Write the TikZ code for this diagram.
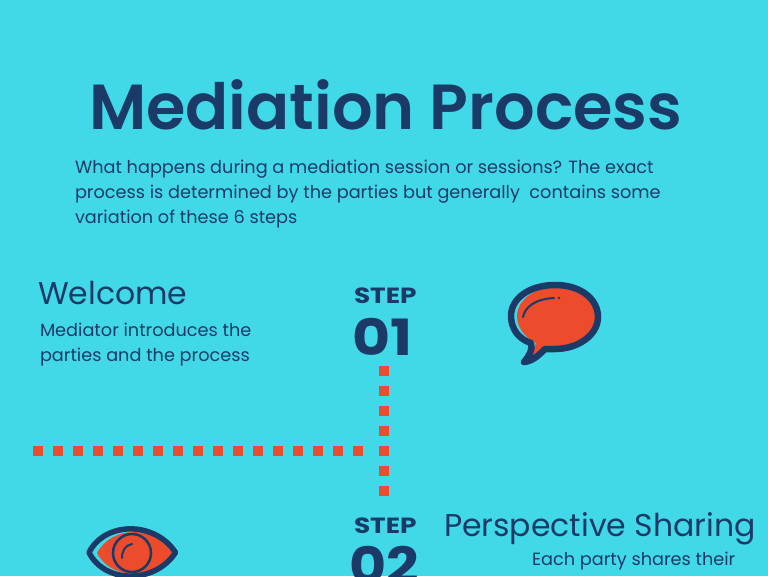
\documentclass[tikz,border=0pt]{standalone}
\usepackage{fontspec}
\setmainfont{Poppins}
\newfontfamily\semi{Poppins SemiBold}
\definecolor{bgc}{HTML}{41D9E8}
\definecolor{navy}{HTML}{1B3A68}
\definecolor{org}{HTML}{EC4B2C}
\newcommand{\bodyfont}{\fontsize{17.7}{17.7}\selectfont}
\newcommand{\headfont}{\fontsize{31.5}{31.5}\selectfont}
\tikzset{
 lbl/.style={inner sep=0pt,outer sep=0pt,text=navy,anchor=base west},
 dot/.style={fill=org,draw=none,minimum size=10pt,inner sep=0pt,outer sep=0pt,shape=rectangle},
 icon/.style={draw=navy,line width=6.5pt,line join=round},
 thin/.style={draw=navy,line width=2pt,line cap=round}
}
\begin{document}
\begin{tikzpicture}[x=1pt,y=-1pt]
\useasboundingbox (0,0) rectangle (768,576);
\clip (0,0) rectangle (768,576);
\fill[bgc] (0,0) rectangle (768,576);
\node[lbl,font=\fontsize{63.7}{63.7}\selectfont\semi] (title) at (89,129) {Mediation Process};
\node[lbl,font=\bodyfont] (i1) at (75,173) {What happens during a mediation session or sessions? The exact};
\node[lbl,font=\bodyfont] (i2) at (75,198) {process is determined by the parties but generally\ \ contains some};
\node[lbl,font=\bodyfont] (i3) at (75,223) {variation of these 6 steps};
\node[lbl,font=\headfont] (w) at (38,304) {Welcome};
\node[lbl,font=\bodyfont] (w1) at (40,336) {Mediator introduces the};
\node[lbl,font=\bodyfont] (w2) at (40,361) {parties and the process};
\node[lbl,font=\fontsize{22}{22}\selectfont\bfseries] (s1) at (354,303) {\scalebox{1.2}[1]{STEP}};
\node[lbl,font=\fontsize{50}{50}\selectfont\bfseries] (n1) at (352,355) {\scalebox{1.17}[1]{01}};
\node[lbl,font=\fontsize{22}{22}\selectfont\bfseries] (s2) at (354,533) {\scalebox{1.2}[1]{STEP}};
\node[lbl,font=\fontsize{50}{50}\selectfont\bfseries] (n2) at (349,583) {\scalebox{1.14}[1]{02}};
\node[lbl,font=\headfont] (p) at (444,536) {Perspective Sharing};
\node[lbl,font=\bodyfont] (p1) at (532,565) {Each party shares their};
\foreach \i in {0,...,16} \node[dot] (h\i) at (38+20*\i,451) {};
\foreach \i in {0,...,6} \node[dot] (v\i) at (383.7,370.7+20*\i) {};
% speech bubble
\path[fill=org] (557,287) .. controls (582,287) and (597,302) .. (597,317)
  .. controls (597,335) and (578,349) .. (555,349)
  .. controls (550,349) and (547,349) .. (544,349)
  -- (530,360) -- (536,343)
  .. controls (524,337) and (517,327) .. (517,316)
  .. controls (517,300) and (535,287) .. (557,287) -- cycle;
\draw[icon] (555,285) .. controls (582,285) and (598,300) .. (598,317)
  .. controls (598,335) and (578,349) .. (555,349)
  .. controls (552,349) and (549,349) .. (545,349)
  .. controls (539,355) and (533,361) .. (524,362)
  .. controls (529,356) and (533,350) .. (531,343)
  .. controls (518,339) and (511,328) .. (511,316)
  .. controls (511,298) and (530,285) .. (555,285) -- cycle;
\draw[thin] (523,317) .. controls (525,307) and (535,299) .. (554,298);
\fill[navy] (559,298) circle (1.3);
% eye
\path[fill=org] (97,553) .. controls (112,525) and (155,525) .. (176,553)
  .. controls (155,581) and (112,581) .. (97,553) -- cycle;
\draw[icon,line width=5.5pt] (89,552.5) .. controls (105,521) and (155,521) .. (175.5,552.5)
  .. controls (155,584) and (105,584) .. (89,552.5) -- cycle;
\draw[navy,line width=2.5pt] (132,553) circle (19);
\draw[thin] (122,558) .. controls (122,550) and (126,545) .. (132,544);
\end{tikzpicture}
\end{document}
